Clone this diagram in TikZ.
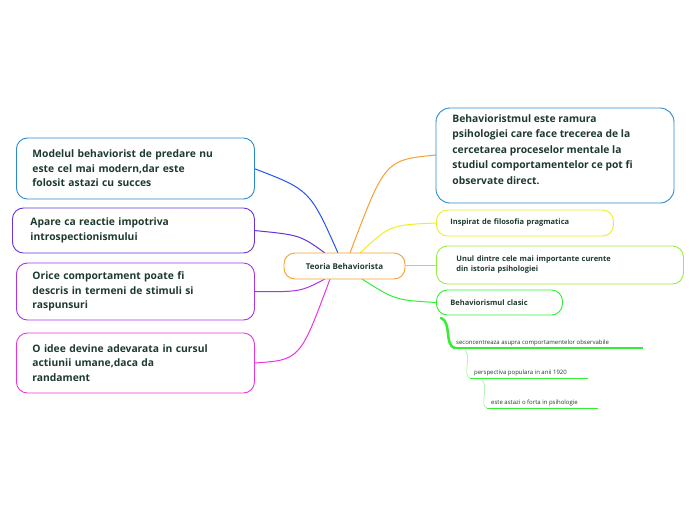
\documentclass[tikz,border=0pt]{standalone}
\usepackage{fontspec}
\setmainfont{Open Sans}
\definecolor{tx}{HTML}{1E3A30}
\definecolor{cor}{HTML}{F5A030}
\definecolor{cbl}{HTML}{2A8AD0}
\definecolor{cyl}{HTML}{EEEE22}
\definecolor{cli}{HTML}{99EE44}
\definecolor{cgr}{HTML}{33EE33}
\definecolor{lb}{HTML}{2255F0}
\definecolor{lp}{HTML}{6633DD}
\definecolor{lv}{HTML}{AA33EE}
\definecolor{lm}{HTML}{EE33DD}
\begin{document}
\begin{tikzpicture}[x=1pt,y=-1pt,
 box/.style={draw=#1,line width=0.9pt,fill=white,rounded corners=11pt,text=tx,font=\bfseries\fontsize{10.3}{14.5}\selectfont,align=left,anchor=north west,inner sep=0pt},
 con/.style={draw=#1,line width=1pt},
 small/.style={font=\fontsize{6}{7}\selectfont,text=tx,anchor=south west,inner sep=1pt}]
\useasboundingbox (0,0) rectangle (696,520);
% connectors
\draw[con=lb] (338,253) .. controls (310,190) .. (254,168.5);
\draw[con=lp] (325,253) .. controls (300,235) .. (254,230.5);
\draw[con=lv] (325,279) .. controls (300,292) .. (254,291.5);
\draw[con=lm] (330,279) .. controls (300,360) .. (254,363);
\draw[con=cor] (350,253) .. controls (385,160) .. (436,155);
\draw[con=cyl] (360,253) .. controls (390,225) .. (436,223);
\draw[con=cli] (405,265) -- (436,265);
\draw[con=cgr] (362,279) .. controls (395,300) .. (436,302.5);
% nodes
\node[box=cor,minimum width=121pt,minimum height=26pt,align=center,anchor=center,font=\bfseries\fontsize{8}{10}\selectfont] (c) at (344.5,266) {Teoria Behaviorista};
\draw[cbl,line width=0.9pt,fill=white,rounded corners=14pt] (436,108) rectangle (674,203);
\node[box=white,draw=none,fill=none,font=\bfseries\fontsize{10.3}{15.5}\selectfont] (r1) at (452,114) {Behavioristmul este ramura\\psihologiei care face trecerea de la\\cercetarea proceselor mentale la\\studiul comportamentelor ce pot fi\\observate direct.};
\node[box=cyl,minimum width=177pt,minimum height=26pt,anchor=west,font=\bfseries\fontsize{7.5}{9}\selectfont,inner xsep=14pt,text width=149pt] (r2) at (436,223) {Inspirat de filosofia pragmatica};
\node[box=cli,minimum width=247pt,minimum height=38pt,anchor=west,font=\bfseries\fontsize{7.5}{10}\selectfont,inner xsep=20pt,text width=207pt] (r3) at (436,265) {Unul dintre cele mai importante curente\\din istoria psihologiei};
\node[box=cgr,minimum width=126pt,minimum height=25pt,anchor=west,font=\bfseries\fontsize{7.5}{9}\selectfont,inner xsep=14pt,text width=98pt] (r4) at (436,302.5) {Behaviorismul clasic};
\node[box=cbl,minimum width=238pt,minimum height=61pt,anchor=west,inner xsep=16pt,text width=206pt] (l1) at (16,168.5) {Modelul behaviorist de predare nu\\este cel mai modern,dar este\\folosit astazi cu succes};
\node[box=lp,minimum width=242pt,minimum height=45pt,anchor=west,inner xsep=18pt,text width=206pt] (l2) at (12,230.5) {Apare ca reactie impotriva\\introspectionismului};
\node[box=lv,minimum width=238pt,minimum height=57pt,anchor=west,inner xsep=16pt,text width=206pt] (l3) at (16,291.5) {Orice comportament poate fi\\descris in termeni de stimuli si\\raspunsuri};
\node[box=lm,minimum width=238pt,minimum height=60pt,anchor=west,inner xsep=16pt,text width=206pt] (l4) at (16,363) {O idee devine adevarata in cursul\\actiunii umane,daca da\\randament};
% sub items
\coordinate (s0) at (441,318);
\coordinate (s1) at (455,348);
\coordinate (s2) at (470,378);
\coordinate (s3) at (487,408);
\draw[cgr,line width=2.5pt,line cap=round] (s0) .. controls (452,322) and (444,346) .. (s1);
\draw[cgr,line width=1.3pt] (s1) -- (643,348);
\node[small] (t1) at (455,347) {seconcentreaza asupra comportamentelor observabile};
\draw[cgr!60,line width=0.5pt] (465,350) .. controls (472,356) and (462,376) .. (s2);
\draw[cgr,line width=1pt] (s2) -- (588,378);
\node[small] (t2) at (473,377) {perspectiva populara in anii 1920};
\draw[cgr!60,line width=0.5pt] (482,380) .. controls (489,386) and (479,406) .. (s3);
\draw[cgr,line width=1pt] (s3) -- (598,408);
\node[small] (t3) at (490,407) {este astazi o forta in psihologie};
\end{tikzpicture}
\end{document}
